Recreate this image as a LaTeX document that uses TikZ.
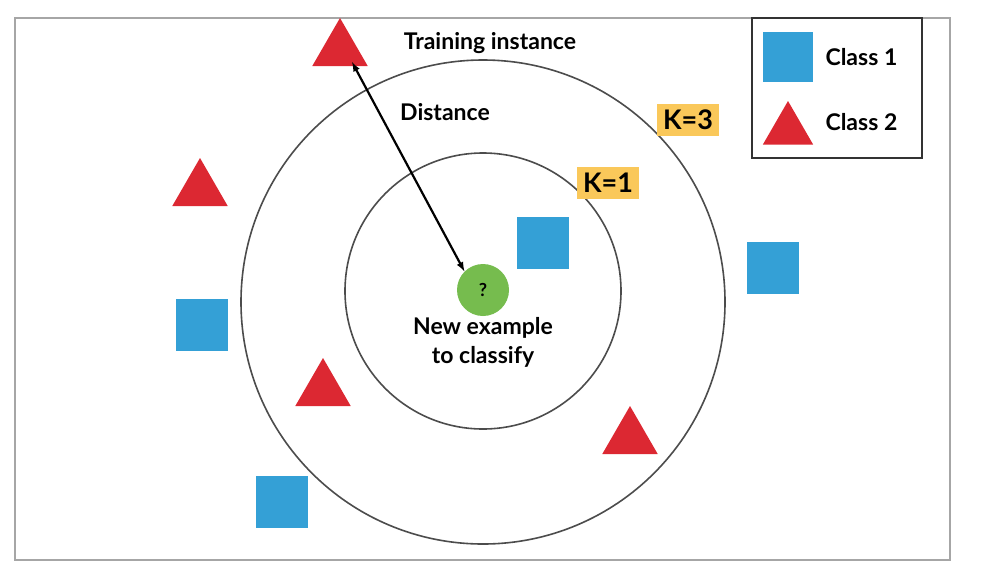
\documentclass[tikz,border=0pt]{standalone}
\usepackage{fontspec}
\setmainfont{Lato}
\usetikzlibrary{shapes.geometric}
\usetikzlibrary{positioning}
\definecolor{clsblue}{RGB}{52,160,214}
\definecolor{clsred}{RGB}{220,40,50}
\definecolor{newgreen}{RGB}{118,188,78}
\definecolor{kyellow}{RGB}{250,200,90}
\tikzset{
     sq/.style={
           rectangle,
           fill=clsblue,
           minimum size=52pt,
           inner sep=0pt,
           },
     tri/.style={
           regular polygon, regular polygon sides=3,
           fill=clsred,
           minimum size=64pt,
           inner sep=0pt,
           },
     klabel/.style={
           fill=kyellow,
           inner sep=6pt,
           font=\fontsize{27}{29}\selectfont\bfseries,
           },
     txt/.style={
           font=\fontsize{23}{29}\selectfont\bfseries,
           align=center,
           },
     ring/.style={
           circle,
           draw=black!70,
           line width=1.6pt,
           },
}
\begin{document}
\begin{tikzpicture}[x=1pt, y=-1pt]
	\useasboundingbox (0,0) rectangle (987,574);
	\fill[white] (0,0) rectangle (987,574);
	\draw[gray!70, line width=1.5pt] (15,18) rectangle (950,560);
	
	% circles
	\node[ring, minimum size=484pt] (outer) at (483,302) {};
	\node[ring, minimum size=276pt] (inner) at (483,291) {};
	\node[circle, fill=newgreen, minimum size=52pt, inner sep=0pt, font=\fontsize{18}{20}\selectfont\bfseries] (new) at (483,290) {?};
	\node[txt] (newtxt) at (483,342) {New example\\to classify};
	
	% instances
	\node[tri] (t0) at (340,50) {};
	\node[tri] (t1) at (200,190) {};
	\node[tri] (t2) at (323,390) {};
	\node[tri] (t3) at (630,438) {};
	\node[sq] (s1) at (202,325) {};
	\node[sq] (s2) at (282,502) {};
	\node[sq] (s3) at (543,243) {};
	\node[sq] (s4) at (773,268) {};
	
	% labels
	\node[txt] (train) at (490,43) {Training instance};
	\node[txt] (dist) at (445,112) {Distance};
	\node[klabel] (k3) at (688,120) {K=3};
	\node[klabel] (k1) at (608,183) {K=1};
	
	\coordinate (tip) at (352,62);
	\draw[<->, >=latex, line width=2.2pt] (tip) -- (new.north west);
	
	% legend
	\draw[black!80, line width=1.8pt] (752,18) rectangle (922,158);
	\node[sq, minimum size=50pt] (lsq) at (788,57) {};
	\node[tri, minimum size=58pt] (ltri) at (788,130) {};
	\node[txt, anchor=west] (l1) at (822,57) {Class 1};
	\node[txt, anchor=west] (l2) at (822,122) {Class 2};
\end{tikzpicture}
\end{document}
